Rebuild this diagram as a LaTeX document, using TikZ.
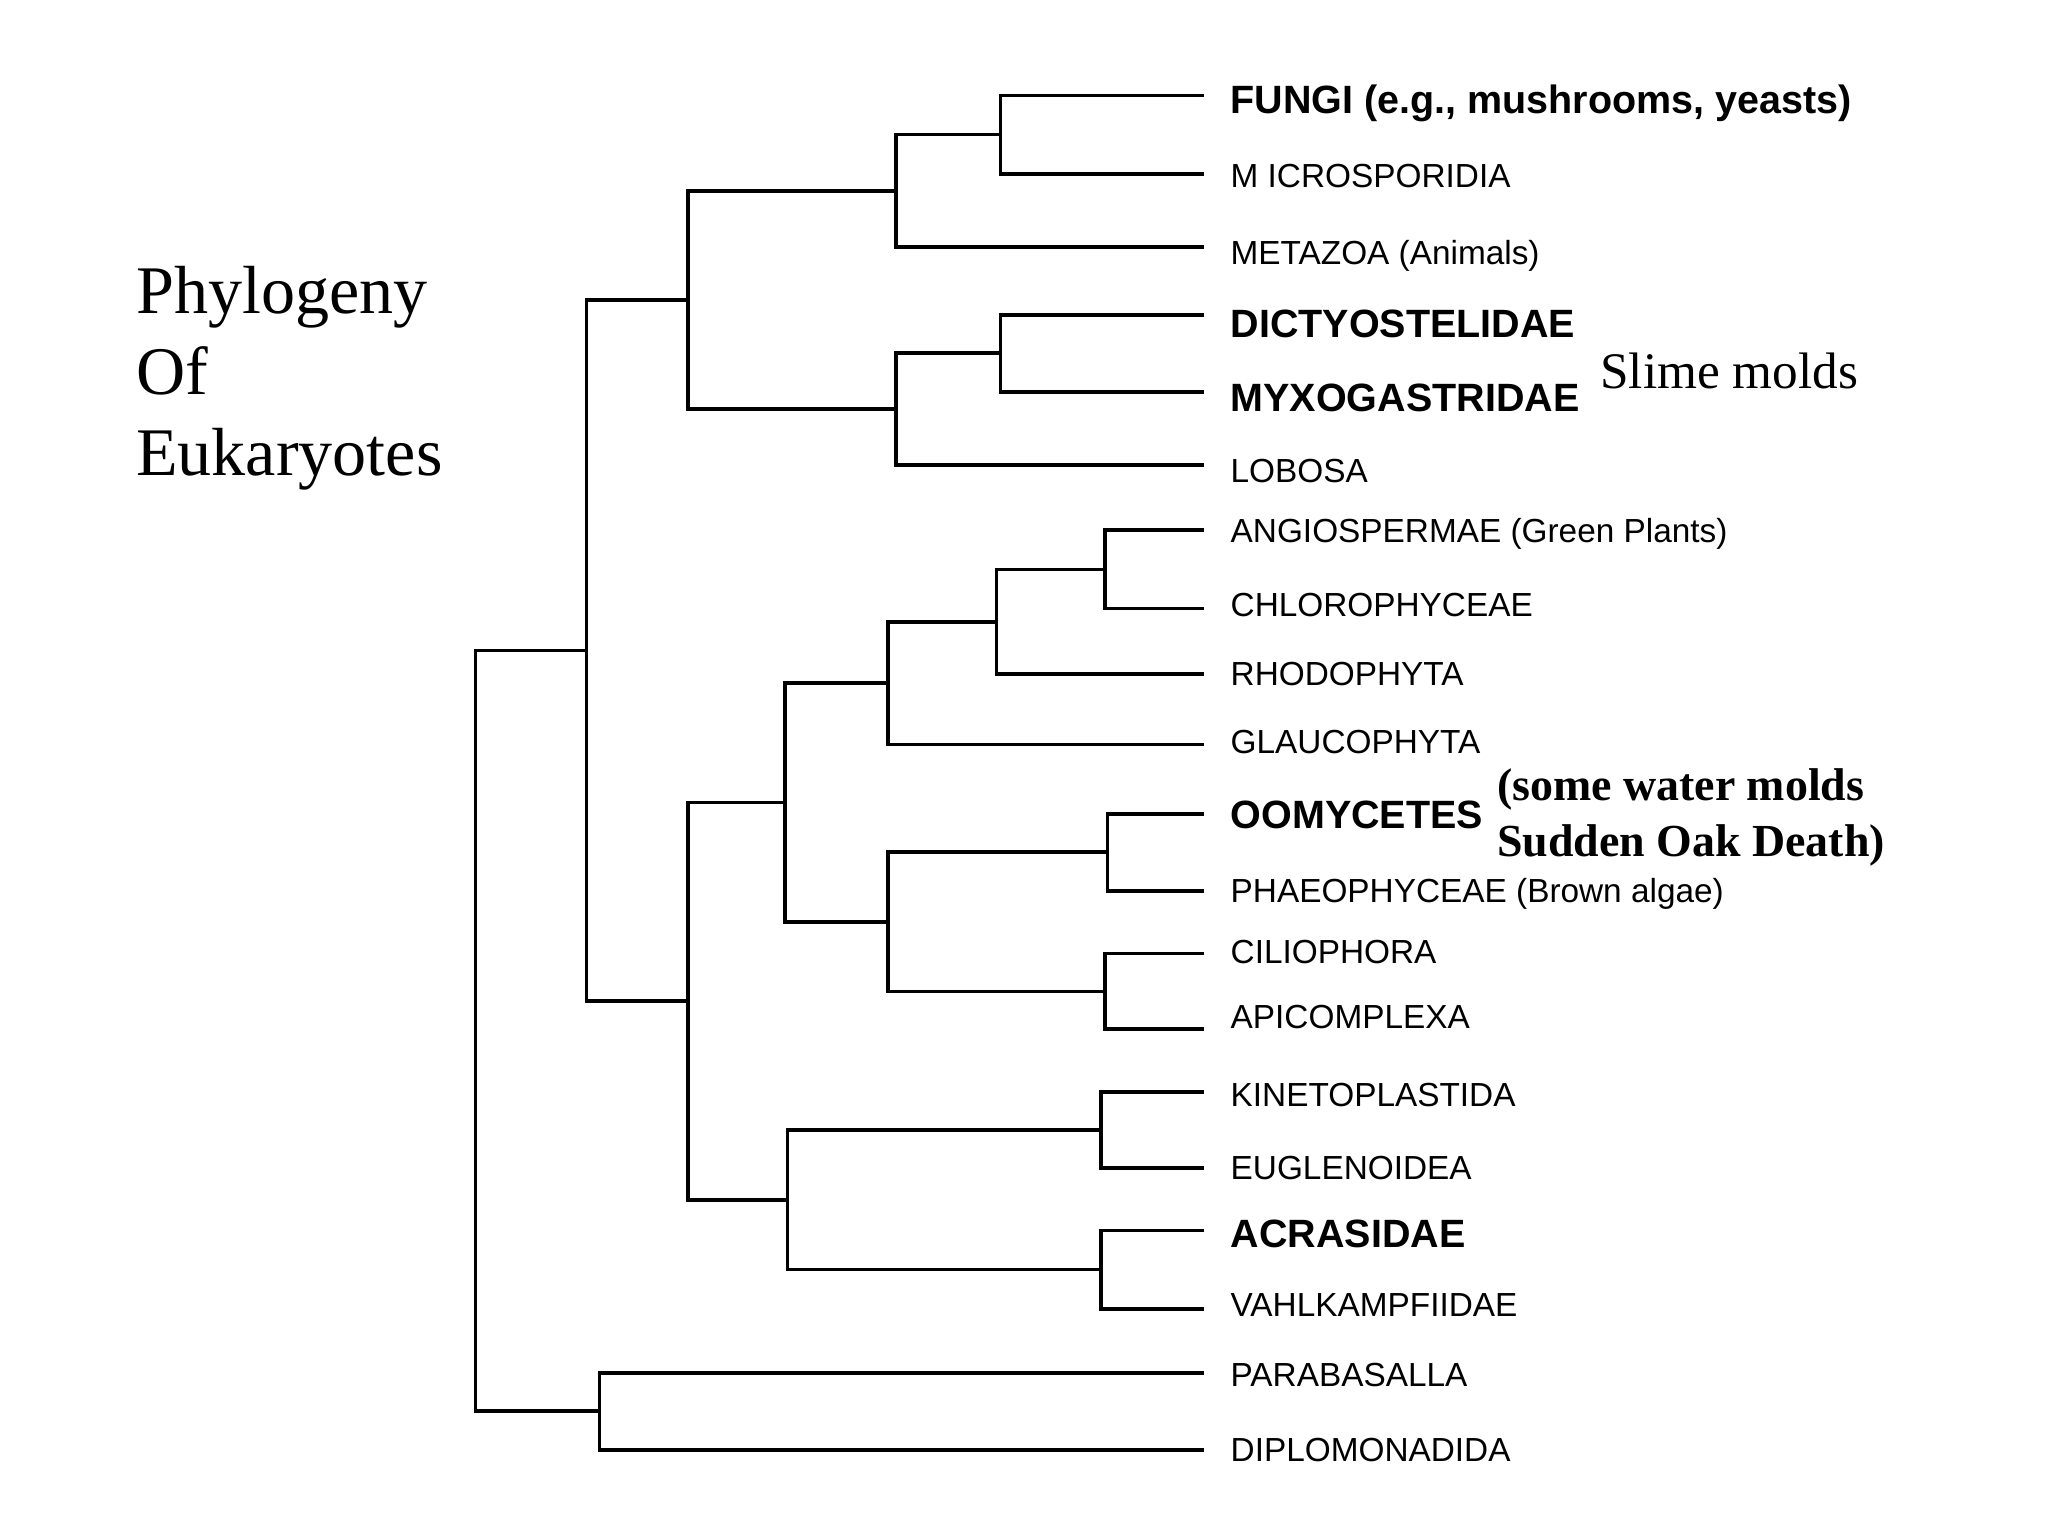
\documentclass[tikz,border=0pt]{standalone}
\usepackage{fontspec}
\setmainfont{Liberation Serif}
\newfontfamily\lab{Liberation Sans}
\usetikzlibrary{calc}
\tikzset{br/.style={line width=2.4pt},
 lbl/.style={anchor=west,font=\lab\fontsize{21.8}{24}\selectfont,inner sep=0pt},
 blbl/.style={anchor=west,font=\lab\bfseries\fontsize{25.8}{28}\selectfont,inner sep=0pt}}
\newcommand\clade[4]{\coordinate (#1) at ($(#2,0 |- #3)!.5!(#2,0 |- #4)$);
 \draw[br] (#3) -- (#2,0 |- #3) -- (#2,0 |- #4) -- (#4);}
\newcommand\leaf[4]{\node[#3] (t#1) at (942,#2) {#4};}
\begin{document}
\begin{tikzpicture}[x=0.03cm,y=-0.03cm]
\useasboundingbox (0,0) rectangle (1568,1176);
\leaf{l1}{79}{blbl}{FUNGI (e.g., mushrooms, yeasts)}
\leaf{l2}{135}{lbl}{M ICROSPORIDIA}
\leaf{l3}{196}{lbl}{METAZOA (Animals)}
\leaf{l4}{248}{blbl}{DICTYOSTELIDAE}
\leaf{l5}{305}{blbl}{MYXOGASTRIDAE}
\leaf{l6}{361}{lbl}{LOBOSA}
\leaf{l7}{409}{lbl}{ANGIOSPERMAE (Green Plants)}
\leaf{l8}{463}{lbl}{CHLOROPHYCEAE}
\leaf{l9}{516}{lbl}{RHODOPHYTA}
\leaf{l10}{568}{lbl}{GLAUCOPHYTA}
\leaf{l11}{624}{blbl}{OOMYCETES}
\leaf{l12}{684}{lbl}{PHAEOPHYCEAE (Brown algae)}
\leaf{l13}{729}{lbl}{CILIOPHORA}
\leaf{l14}{779}{lbl}{APICOMPLEXA}
\leaf{l15}{838}{lbl}{KINETOPLASTIDA}
\leaf{l16}{894}{lbl}{EUGLENOIDEA}
\leaf{l17}{945}{blbl}{ACRASIDAE}
\leaf{l18}{999}{lbl}{VAHLKAMPFIIDAE}
\leaf{l19}{1053}{lbl}{PARABASALLA}
\leaf{l20}{1110}{lbl}{DIPLOMONADIDA}
\coordinate (l1) at (922,73); \coordinate (l2) at (922,133); \coordinate (l3) at (922,189);
\coordinate (l4) at (922,241); \coordinate (l5) at (922,300); \coordinate (l6) at (922,356);
\coordinate (l7) at (922,406); \coordinate (l8) at (922,466); \coordinate (l9) at (922,516);
\coordinate (l10) at (922,570); \coordinate (l11) at (922,623); \coordinate (l12) at (922,682);
\coordinate (l13) at (922,730); \coordinate (l14) at (922,788); \coordinate (l15) at (922,836);
\coordinate (l16) at (922,894); \coordinate (l17) at (922,942); \coordinate (l18) at (922,1002);
\coordinate (l19) at (922,1051); \coordinate (l20) at (922,1110);
\clade{n1}{766}{l1}{l2}
\clade{n2}{686}{n1}{l3}
\clade{n3}{766}{l4}{l5}
\clade{n4}{686}{n3}{l6}
\clade{n5}{527}{n2}{n4}
\clade{n6}{846}{l7}{l8}
\clade{n7}{763}{n6}{l9}
\clade{n8}{680}{n7}{l10}
\clade{n9}{848}{l11}{l12}
\clade{n10}{846}{l13}{l14}
\clade{n11}{680}{n9}{n10}
\clade{n12}{601}{n8}{n11}
\clade{n13}{843}{l15}{l16}
\clade{n14}{843}{l17}{l18}
\clade{n15}{603}{n13}{n14}
\clade{n16}{527}{n12}{n15}
\clade{n17}{449}{n5}{n16}
\clade{n18}{459}{l19}{l20}
\clade{root}{364}{n17}{n18}
\node[anchor=base west,align=left,font=\fontsize{44.5}{53}\selectfont,inner sep=0pt] (title) at (104,364) {Phylogeny\\Of\\Eukaryotes};
\node[anchor=west,font=\fontsize{33.5}{36}\selectfont,inner sep=0pt] (slime) at (1225,284) {Slime molds};
\node[anchor=west,align=left,font=\bfseries\fontsize{30}{37}\selectfont,inner sep=0pt] (oak) at (1146,626) {(some water molds\\Sudden Oak Death)};
\end{tikzpicture}
\end{document}
